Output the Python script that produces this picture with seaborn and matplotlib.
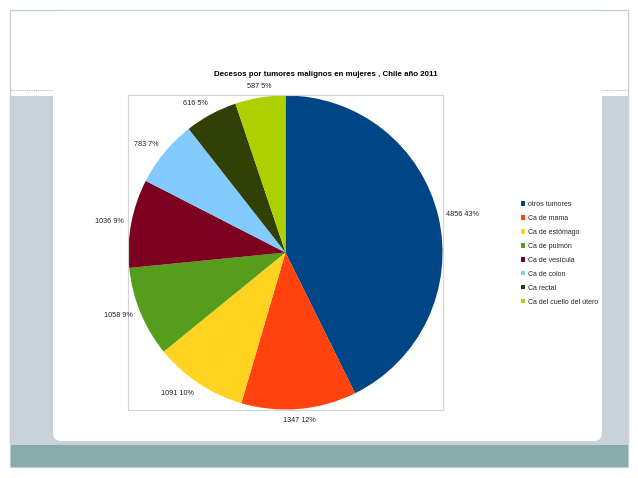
import matplotlib
matplotlib.use("Agg")
import numpy as np
import matplotlib.pyplot as plt
import seaborn as sns
from matplotlib.patches import Rectangle, FancyBboxPatch, Patch
from matplotlib.lines import Line2D

categories = ["otros tumores", "Ca de mama", "Ca de estómago", "Ca de pulmón",
              "Ca de vesícula", "Ca de colon", "Ca rectal", "Ca del cuello del útero"]
deaths = [4856, 1347, 1091, 1058, 1036, 783, 616, 587]
percents = [43, 12, 10, 9, 9, 7, 5, 5]
colors = ["#004586", "#ff420e", "#ffd320", "#579d1c", "#7e0021", "#83caff", "#314004", "#aecf00"]
title = "Decesos por tumores malignos en mujeres , Chile año 2011"

sns.set_theme(style="white")
plt.rcParams['font.family'] = ['Liberation Sans', 'DejaVu Sans']

W, H = 638, 478
fig = plt.figure(figsize=(W / 100, H / 100), dpi=100)
fig.patch.set_facecolor("white")

def px(x0, y0, x1, y1):
    return (x0 / W, 1 - y1 / H, (x1 - x0) / W, (y1 - y0) / H)

bg = fig.add_axes([0, 0, 1, 1])
bg.set_xlim(0, W)
bg.set_ylim(H, 0)
bg.axis("off")
bg.add_patch(Rectangle((10, 10), 618, 457, facecolor="white", edgecolor="#c5d0d6", lw=1))
bg.add_patch(Rectangle((10.5, 96), 617, 352, facecolor="#c8d3d9", edgecolor="none"))
bg.add_patch(Rectangle((10.5, 445), 617, 21.5, facecolor="#8aabab", edgecolor="none"))
bg.add_patch(FancyBboxPatch((53, 11), 549, 430, boxstyle="round,pad=0,rounding_size=8",
                            facecolor="white", edgecolor="none"))
bg.add_line(Line2D([11, 53], [90, 90], color="#b8b8b8", lw=0.8, ls=(0, (1, 1))))
bg.add_line(Line2D([602, 627], [90, 90], color="#b8b8b8", lw=0.8, ls=(0, (1, 1))))

ax = fig.add_axes(px(127, 95, 444, 410))
labels = [f"{d} {p}%" for d, p in zip(deaths, percents)]
wedges, texts = ax.pie(deaths, colors=colors, startangle=90, counterclock=False,
                       labels=labels, labeldistance=1.05,
                       wedgeprops=dict(linewidth=0),
                       textprops=dict(fontsize=5.2, color="#222222"))
for w, t in zip(wedges, texts):
    ang = np.deg2rad((w.theta1 + w.theta2) / 2)
    c, s = np.cos(ang), np.sin(ang)
    if abs(c) < 0.2:
        t.set_ha("center")
    else:
        t.set_ha("left" if c > 0 else "right")
    if s > 0.5:
        t.set_va("bottom")
    elif s < -0.5:
        t.set_va("top")
    else:
        t.set_va("center")
ax.set_xlim(-1.003, 1.003)
ax.set_ylim(-1.003, 1.003)
ax.set_aspect("equal")
ax.set_frame_on(True)
for sp in ax.spines.values():
    sp.set_color("#d4d4d4")
    sp.set_linewidth(0.8)
ax.set_xticks([])
ax.set_yticks([])

fig.text(326 / W, 1 - 74 / H, title, ha="center", va="center", fontsize=5.7,
         fontweight="bold", color="black")

handles = [Patch(facecolor=c, edgecolor="none") for c in colors]
fig.legend(handles, categories, loc="upper left", bbox_to_anchor=(521 / W, 1 - 201 / H),
           frameon=False, fontsize=5.0, handlelength=0.6, handleheight=0.6,
           handletextpad=0.4, labelspacing=1.0, borderaxespad=0, borderpad=0)

fig.savefig("out.png", dpi=100)
